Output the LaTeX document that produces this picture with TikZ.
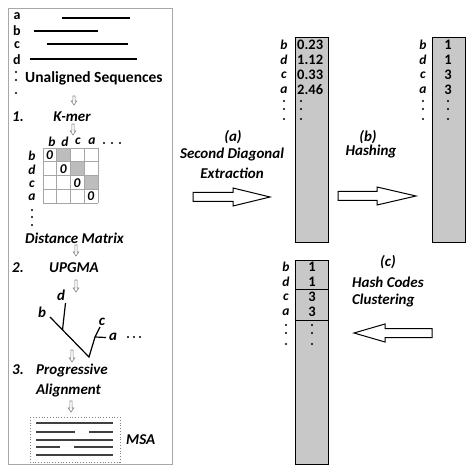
\documentclass[tikz,border=0pt]{standalone}
\usepackage{fontspec}
\setmainfont{Carlito}
\definecolor{colfill}{HTML}{C8C8C8}
\definecolor{cellfill}{HTML}{BDBDBD}
\definecolor{framec}{HTML}{A8A8A8}
\definecolor{msac}{HTML}{404040}
\tikzset{
  lbl/.style={font=\bfseries\itshape\fontsize{15}{15}\selectfont, inner sep=0pt},
  letter/.style={font=\bfseries\itshape\fontsize{13.5}{13.5}\selectfont, inner sep=0pt},
  seqlbl/.style={font=\bfseries\fontsize{15.5}{15.5}\selectfont, inner sep=0pt},
  seqletter/.style={font=\bfseries\fontsize{14}{14}\selectfont, inner sep=0pt},
  val/.style={font=\bfseries\fontsize{14.5}{14.5}\selectfont, inner sep=0pt},
  bigarrow/.style={draw=black, line width=1pt, fill=white},
  smallarrow/.style={draw=gray, line width=0.6pt, fill=white},
  column/.style={draw=black, line width=1pt, fill=colfill},
  seqline/.style={line width=1.4pt},
  msaline/.style={draw=msac, line width=2pt},
  dotc/.style={fill=black, draw=none},
}
\newcommand\harrow[6]{% tail x, tip x, y, head base x, body half, head half
  \draw[bigarrow] (#1,#3-#5) -- (#4,#3-#5) -- (#4,#3-#6) -- (#2,#3) -- (#4,#3+#6) -- (#4,#3+#5) -- (#1,#3+#5) -- cycle;}
\newcommand\varrow[3]{% x, top y, bottom y
  \draw[smallarrow] (#1-1.1,#2) -- (#1+1.1,#2) -- (#1+1.1,#3-4) -- (#1+2.8,#3-4) -- (#1,#3) -- (#1-2.8,#3-4) -- (#1-1.1,#3-4) -- cycle;}
\newcommand\dotcol[2]{% x, list of y
  \foreach \yy in {#2} {\fill[dotc] (#1,\yy) circle (1.1);}}
\begin{document}
\begin{tikzpicture}[x=1pt,y=-1pt]
\useasboundingbox (0,0) rectangle (474,473);
\fill[white] (0,0) rectangle (474,473);
% left frame
\draw[framec, line width=0.8pt] (8,8) rectangle (172,464);
% sequences
\node[seqletter] (la) at (17,16) {a};
\node[seqletter] (lb) at (17,31) {b};
\node[seqletter] (lc) at (17,45) {c};
\node[seqletter] (ld) at (17,60) {d};
\draw[seqline] (62,18) -- (130,18);
\draw[seqline] (34,31) -- (98,31);
\draw[seqline] (47,44) -- (128,44);
\draw[seqline] (30,59) -- (137,59);
\dotcol{16}{72,80,93}
\node[seqlbl, anchor=west] (uns) at (25,78) {Unaligned Sequences};
\varrow{74}{96}{105}
\node[lbl] (n1) at (18,117) {1.};
\node[lbl] (kmer) at (72,117) {K-mer};
\varrow{73}{124}{135}
% matrix
\foreach \t/\x in {b/52,d/65,c/78,a/92} {\node[letter] (h\t) at (\x,141.5) {\t};}
\dotcol{104}{143}
\dotcol{112}{143}
\dotcol{120}{143}
\fill[cellfill] (56.75,148) rectangle (70.5,161.75);
\fill[cellfill] (70.5,161.75) rectangle (84.25,175.5);
\fill[cellfill] (84.25,175.5) rectangle (98,189.25);
\foreach \i in {0,...,4} {
  \draw[gray!70, line width=0.7pt] (43+13.75*\i,148) -- (43+13.75*\i,203);
  \draw[gray!70, line width=0.7pt] (43,148+13.75*\i) -- (98,148+13.75*\i);
}
\foreach \i in {0,...,3} {\node[letter] (z\i) at (49.5+13.75*\i,155.2+13.75*\i) {0};}
\foreach \t/\y in {b/156,d/169.5,c/184,a/197.5} {\node[letter] (r\t) at (32,\y) {\t};}
\dotcol{32}{210,217,225}
\node[lbl, anchor=west] (dm) at (25,238) {Distance Matrix};
\varrow{76}{245}{256}
\node[lbl] (n2) at (18,268) {2.};
\node[lbl] (upg) at (74,268) {UPGMA};
\varrow{76}{280}{292}
% tree
\coordinate (tb) at (50,317);
\coordinate (troot) at (89,357);
\coordinate (tdj) at (62.5,330);
\coordinate (td) at (65.5,303);
\coordinate (tca) at (95,337);
\coordinate (tc) at (100,327);
\coordinate (ta) at (106,337.5);
\draw[line width=1.2pt] (tb) -- (troot) -- (tca) -- (tc);
\draw[line width=1.2pt] (tdj) -- (td);
\draw[line width=1.2pt] (tca) -- (ta);
\node[lbl] (ld2) at (61,295) {d};
\node[lbl] (lb2) at (42,312) {b};
\node[lbl] (lc2) at (102,322) {c};
\node[lbl] (la2) at (113,337) {a};
\foreach \x in {128,134,140} {\fill[dotc] (\x,337) circle (1.1);}
\varrow{72}{350}{362}
\node[lbl] (n3) at (18,370) {3.};
\node[lbl] (prog) at (72,370) {Progressive};
\node[lbl] (alig) at (68.5,390) {Alignment};
\varrow{71}{401}{412}
% MSA box
\draw[gray, dotted, line width=0.8pt] (30,417) rectangle (120,462);
\draw[msaline] (36,423) -- (113,423);
\draw[msaline] (36,431.5) -- (75,431.5);
\draw[msaline] (89,431.5) -- (113,431.5);
\draw[msaline] (36,439.5) -- (113,439.5);
\draw[msaline] (36,447) -- (60,447);
\draw[msaline] (74,447) -- (113,447);
\draw[msaline] (36,455) -- (113,455);
\node[lbl, anchor=west] (msa) at (126,440) {MSA};
% column 1
\draw[column] (295,38) rectangle (328,243);
\foreach \t/\v/\y in {b/0.23/45,d/1.12/60,c/0.33/75,a/2.46/90} {
  \node[letter] (c1\t) at (284,\y) {\t};
  \node[val, anchor=west] (c1v\t) at (297,\y) {\v};
}
\dotcol{284}{101,109,119}
\dotcol{301}{101,109,119}
% arrow a
\node[lbl] (ta1) at (233,137) {(a)};
\node[lbl] (ta2) at (232,155) {Second Diagonal};
\node[lbl] (ta3) at (232,173) {Extraction};
\harrow{193}{270}{197}{233}{4.5}{9}
% column 2
\draw[column] (432,38) rectangle (465,243);
\foreach \t/\v/\y in {b/1/45,d/1/60,c/3/75,a/3/90} {
  \node[letter] (c2\t) at (423,\y) {\t};
  \node[val] (c2v\t) at (448,\y) {\v};
}
\dotcol{423}{101,109,119}
\dotcol{448}{101,109,119}
% arrow b
\node[lbl] (tb1) at (368,137) {(b)};
\node[lbl] (tb2) at (371,152) {Hashing};
\harrow{338}{416}{196}{377}{4.5}{9}
% column 3
\draw[column] (295,261) rectangle (328,464);
\draw[line width=1pt] (295,289) -- (328,289);
\draw[line width=1pt] (295,320) -- (328,320);
\foreach \t/\v/\y in {b/1/267,d/1/282,c/3/297,a/3/312} {
  \node[letter] (c3\t) at (286,\y) {\t};
  \node[val] (c3v\t) at (312,\y) {\v};
}
\dotcol{286}{325,333,344}
\dotcol{312}{325,333,344}
% arrow c
\node[lbl] (tc1) at (388,262) {(c)};
\node[lbl, anchor=west] (tc2) at (352,282) {Hash Codes};
\node[lbl, anchor=west] (tc3) at (352,301) {Clustering};
\harrow{432}{354}{333}{385}{4.5}{9}
\end{tikzpicture}
\end{document}
